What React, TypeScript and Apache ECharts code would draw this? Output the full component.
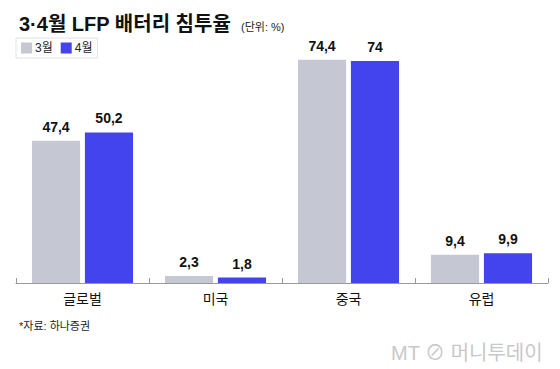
import React, { useEffect, useRef } from "react";
import * as echarts from "echarts";

const categories = ["글로벌", "미국", "중국", "유럽"];
const march = [47.4, 2.3, 74.4, 9.4];
const april = [50.2, 1.8, 74, 9.9];
const seriesNames = ["3월", "4월"];

const FONT = "'Liberation Sans', 'Noto Sans CJK KR', sans-serif";

export default function App() {
  const ref = useRef<HTMLDivElement>(null);
  useEffect(() => {
    if (!ref.current) return;
    const chart = echarts.init(ref.current, undefined, { renderer: "svg" });
    const label = {
      show: true,
      position: "top" as const,
      distance: 7,
      fontSize: 14,
      fontWeight: "bold" as const,
      color: "#111",
      fontFamily: FONT,
      formatter: (p: any) => String(p.value).replace(".", ","),
    };
    chart.setOption({
      animation: false,
      backgroundColor: "#fff",
      textStyle: { fontFamily: FONT },
      title: [
        {
          text: "3·4월 LFP 배터리 침투율",
          left: 14,
          top: 9,
          textStyle: { fontSize: 20, fontWeight: "bold", color: "#111", fontFamily: FONT },
        },
        {
          text: "(단위: %)",
          left: 236,
          top: 16,
          textStyle: { fontSize: 11, fontWeight: "normal", color: "#222", fontFamily: FONT },
        },
        {
          text: "*자료: 하나증권",
          left: 14,
          top: 315,
          textStyle: { fontSize: 11, fontWeight: "normal", color: "#222", fontFamily: FONT },
        },
        {
          text: "MT ⊘ 머니투데이",
          right: 12,
          top: 338,
          textStyle: { fontSize: 20, fontWeight: "normal", color: "#c8c8c8", fontFamily: FONT },
        },
      ],
      legend: {
        data: seriesNames,
        left: 16,
        top: 38,
        itemWidth: 11,
        itemHeight: 11,
        itemGap: 8,
        padding: [4, 5, 4, 5],
        borderColor: "#e2e2e2",
        borderWidth: 1,
        icon: "rect",
        textStyle: { fontSize: 12, color: "#222", fontFamily: FONT, padding: [0, 0, 0, -2] },
      },
      grid: { left: 16, right: 12, top: 43, bottom: 86, containLabel: false },
      xAxis: {
        type: "category",
        data: categories,
        axisLine: { lineStyle: { color: "#999", width: 1 } },
        axisTick: { show: true, inside: true, length: 5, lineStyle: { color: "#999" } },
        axisLabel: { fontSize: 14, color: "#111", margin: 9, fontFamily: FONT },
      },
      yAxis: {
        type: "value",
        min: 0,
        max: 80,
        show: false,
        splitLine: { show: false },
      },
      series: [
        {
          name: seriesNames[0],
          type: "bar",
          data: march,
          barGap: "10%",
          barCategoryGap: "24%",
          itemStyle: { color: "#c5c8d2" },
          label,
        },
        {
          name: seriesNames[1],
          type: "bar",
          data: april,
          itemStyle: { color: "#4444ee" },
          label,
        },
      ],
    });
    return () => chart.dispose();
  }, []);
  return <div ref={ref} style={{ width: 560, height: 369, position: "absolute", left: 0, top: 0 }} />;
}
